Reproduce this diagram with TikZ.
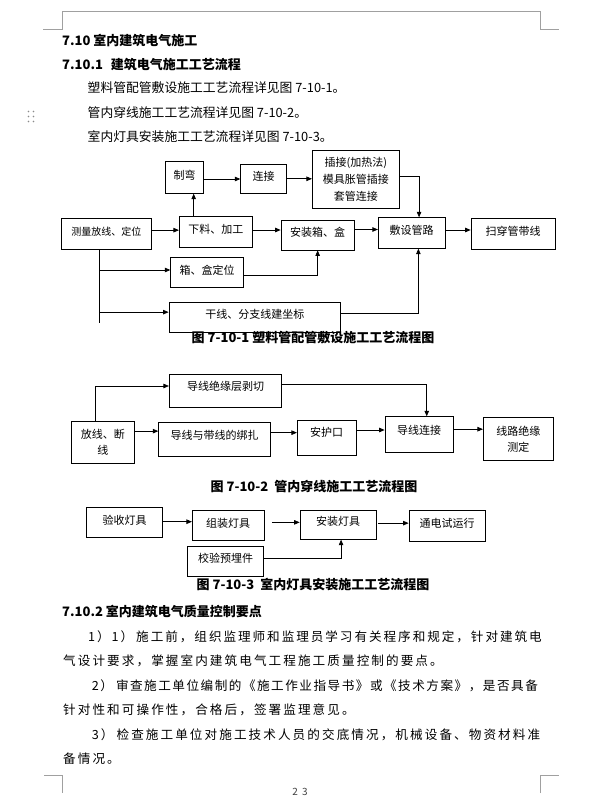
\documentclass[tikz,border=0pt]{standalone}
\usepackage{fontspec}
\setmainfont{Noto Sans CJK SC}
\newfontfamily\bodyls[LetterSpace=12]{Noto Sans CJK SC}
\usetikzlibrary{arrows.meta,calc}
\definecolor{cornergray}{HTML}{A0A0A0}
\definecolor{dotgray}{HTML}{8A8A8A}
\newcommand\lsp[1]{\addfontfeature{LetterSpace=#1}}
\begin{document}
\begin{tikzpicture}[x=1pt,y=-1pt,
  box/.style={draw, line width=0.75pt, inner sep=0pt, align=center, font=\fontsize{11}{13}\selectfont, text height=8.5pt, text depth=5pt},
  multi/.style={text height={}, text depth={}},
  arr/.style={-{Triangle[length=5.5pt,width=4.5pt]}, line width=0.7pt},
  ln/.style={line width=0.7pt},
  cornerline/.style={cornergray, line width=0.6pt},
  headtxt/.style={anchor=west, inner sep=0pt, font=\fontsize{13}{15}\selectfont\bfseries},
  paratxt/.style={anchor=west, inner sep=0pt, font=\fontsize{12.8}{15}\selectfont},
  bodytxt/.style={anchor=west, inner sep=0pt, font=\fontsize{12.6}{15}\bodyls},
  figcap/.style={inner sep=0pt, font=\fontsize{13}{15}\selectfont\bfseries},
]
\useasboundingbox[fill=white] (0,0) rectangle (604,806);

% page corner marks
\draw[cornerline] (43.3,29.3) -- (62.3,29.3) -- (62.3,11.7) -- (540,11.7) -- (540,29.3) -- (559,29.3);
\draw[cornerline] (44,775) -- (62.3,775) -- (62.3,793);
\draw[cornerline] (540,793) -- (540,775) -- (559,775);
% drag handle dots
\foreach \dx in {28.5,33.5}{\foreach \dy in {111.5,116.5,121.5}{\fill[dotgray] (\dx,\dy) circle (0.9pt);}}

% headings and text
\node[headtxt] (h1) at (62,40) {7.10 室内建筑电气施工};
\node[headtxt] (h2) at (62,64) {7.10.1\hspace{8pt}建筑电气施工工艺流程};
\node[paratxt] (p1) at (87.5,88) {塑料管配管敷设施工工艺流程详见图 7-10-1。};
\node[paratxt] (p2) at (87.5,113) {管内穿线施工工艺流程详见图 7-10-2。};
\node[paratxt] (p3) at (87.5,137) {室内灯具安装施工工艺流程详见图 7-10-3。};

% ---------- Figure 7-10-1 ----------
\node[box, minimum width=37.6pt, minimum height=31.6pt] (zw) at (184.5,177.5) {制弯};
\node[box, minimum width=46pt, minimum height=29pt] (lj) at (263.7,178.8) {连接};
\node[box, multi, font=\fontsize{11}{16.7}\selectfont, minimum width=87pt, minimum height=57.6pt] (cj) at (355.8,179.5) {插接(加热法)\\模具胀管插接\\套管连接};
\node[box, font=\fontsize{10}{12}\selectfont, minimum width=90.7pt, minimum height=30.7pt] (cl) at (106.35,233.65) {测量放线、定位};
\node[box, minimum width=73pt, minimum height=30.6pt] (xl) at (215.8,232) {下料、加工};
\node[box, minimum width=73.3pt, minimum height=30pt] (az) at (317.65,235) {安装箱、盒};
\node[box, minimum width=66.7pt, minimum height=30.6pt] (fs) at (411.65,233) {敷设管路};
\node[box, minimum width=84pt, minimum height=30.7pt] (sc) at (513,233.65) {扫穿管带线};
\node[box, minimum width=72.6pt, minimum height=30.4pt] (xh) at (207,272.5) {箱、盒定位};
\node[box, minimum width=171.7pt, minimum height=29.7pt] (gx) at (254.85,317.15) {干线、分支线建坐标};

\coordinate (clo) at ([yshift=3.5pt]cl.east);
\draw[arr] (clo) -- (clo -| xl.west);
\coordinate (xlo) at ([yshift=2pt]xl.east);
\draw[arr] (xlo) -- (xlo -| az.west);
\coordinate (azo) at ([yshift=5.5pt]az.east);
\draw[arr] (azo) -- (azo -| fs.west);
\coordinate (fso) at ([yshift=3pt]fs.east);
\draw[arr] (fso) -- (fso -| sc.west);
\coordinate (xlt) at ($(xl.north west)!0.2!(xl.north east)$);
\draw[arr] (xlt) -- (xlt |- zw.south);
\coordinate (zwo) at ([yshift=-1.5pt]zw.east);
\draw[arr] (zwo) -- (zwo -| lj.west);
\draw[arr] (lj.east) -- (lj.east -| cj.west);
\coordinate (cjo) at ([yshift=3pt]cj.east);
\coordinate (fst) at ($(fs.north west)!0.61!(fs.north east)$);
\draw[arr] (cjo) -| (fst);
\coordinate (cls) at ($(cl.south west)!0.42!(cl.south east)$);
\coordinate (cle) at ($(cls)+(0,73.3)$);
\draw[ln] (cls) -- (cle);
\coordinate (xhin) at ([yshift=2.5pt]xh.west);
\draw[arr] (cls |- xhin) -- (xhin);
\coordinate (gxin) at ([yshift=5pt]gx.west);
\draw[arr] (cls |- gxin) -- (gxin);
\coordinate (xho) at ([yshift=-2.5pt]xh.east);
\draw[arr] (xho) -| (az.south);
\coordinate (gxo) at ([yshift=4pt]gx.east);
\coordinate (fsb) at ($(fs.south west)!0.6!(fs.south east)$);
\draw[arr] (gxo) -| (fsb);
\node[figcap] (c1) at (313,337.5) {图 7-10-1 塑料管配管敷设施工工艺流程图};

% ---------- Figure 7-10-2 ----------
\node[box, multi, font=\fontsize{11}{16}\selectfont, minimum width=62.3pt, minimum height=42.3pt] (fx) at (102.85,442.15) {放线、断\\线};
\node[box, text depth=9pt, minimum width=112.4pt, minimum height=33.4pt] (dj) at (225.5,391) {导线绝缘层剥切};
\node[box, text depth=7pt, minimum width=112pt, minimum height=33.7pt] (db) at (214.7,439.15) {导线与带线的绑扎};
\node[box, text depth=11pt, minimum width=58.7pt, minimum height=35pt] (ah) at (326.65,437.5) {安护口};
\node[box, text depth=9pt, minimum width=68.3pt, minimum height=36pt] (dl) at (419.15,434.7) {导线连接};
\node[box, multi, font=\fontsize{11}{16.3}\selectfont, minimum width=70pt, minimum height=43.4pt] (xc) at (518.3,439) {线路绝缘\\测定};

\coordinate (fxt) at ($(fx.north west)!0.38!(fx.north east)$);
\coordinate (djin) at ([yshift=5pt]dj.west);
\draw[arr] (fxt) |- (djin);
\coordinate (djo) at ([yshift=7pt]dj.east);
\coordinate (dlt) at ($(dl.north west)!0.61!(dl.north east)$);
\draw[arr] (djo) -| (dlt);
\coordinate (fxo) at ([yshift=11pt]fx.east);
\draw[arr] (fxo) -- (fxo -| db.west);
\coordinate (dbo) at ([yshift=6.5pt]db.east);
\draw[arr] (dbo) -- (dbo -| ah.west);
\coordinate (aho) at ([yshift=7.5pt]ah.east);
\draw[arr] (aho) -- (aho -| dl.west);
\coordinate (dlo) at ([yshift=5.5pt]dl.east);
\draw[arr] (dlo) -- (dlo -| xc.west);
\node[figcap] (c2) at (314,486.5) {图 7-10-2\hspace{6pt}管内穿线施工工艺流程图};

% ---------- Figure 7-10-3 ----------
\node[box, minimum width=75.6pt, minimum height=30pt] (ys) at (124.5,522.7) {验收灯具};
\node[box, minimum width=71.7pt, minimum height=29.3pt] (zz) at (228.15,525.35) {组装灯具};
\node[box, text depth=6pt, minimum width=76pt, minimum height=29.3pt] (az2) at (338,524.65) {安装灯具};
\node[box, minimum width=76pt, minimum height=30.3pt] (td) at (447,525.85) {通电试运行};
\node[box, text depth=6pt, minimum width=75.6pt, minimum height=30pt] (jy) at (225.5,561.7) {校验预埋件};

\coordinate (yso) at ([yshift=1pt]ys.east);
\draw[arr] (yso) -- (yso -| zz.west);
\coordinate (zzo) at ([yshift=3pt]zz.east);
\draw[arr, shorten <=7.5pt] (zzo) -- (zzo -| az2.west);
\coordinate (az2o) at ([yshift=1.5pt]az2.east);
\draw[arr, shorten <=2pt] (az2o) -- (az2o -| td.west);
\coordinate (jyo) at ([yshift=3.4pt]jy.east);
\coordinate (az2b) at ($(az2.south west)!0.54!(az2.south east)$);
\draw[arr] (jyo) -| (az2b);
\node[figcap] (c3) at (313,585) {图 7-10-3\hspace{6pt}室内灯具安装施工工艺流程图};

% ---------- 7.10.2 ----------
\node[headtxt] (h3) at (62,611) {7.10.2 室内建筑电气质量控制要点};
\node[bodytxt] (b1) at (88,637) {\lsp{15.5}1）1）\hspace{3pt}施工前，组织监理师和监理员学习有关程序和规定，针对建筑电};
\node[bodytxt] (b2) at (63,661) {\lsp{16.5}气设计要求，掌握室内建筑电气工程施工质量控制的要点。};
\node[bodytxt] (b3) at (91.7,686) {\lsp{12}2）\hspace{3pt}审查施工单位编制的《施工作业指导书》或《技术方案》，是否具备};
\node[bodytxt] (b4) at (63,710) {\lsp{16.5}针对性和可操作性，合格后，签署监理意见。};
\node[bodytxt] (b5) at (91.7,735) {\lsp{16.5}3）\hspace{3pt}检查施工单位对施工技术人员的交底情况，机械设备、物资材料准};
\node[bodytxt] (b6) at (63,759) {\lsp{16.5}备情况。};
\node[inner sep=0pt, font=\fontsize{10}{12}\selectfont, text=black!75] (pg) at (300,791.5) {2\hspace{4pt}3};
\end{tikzpicture}
\end{document}
